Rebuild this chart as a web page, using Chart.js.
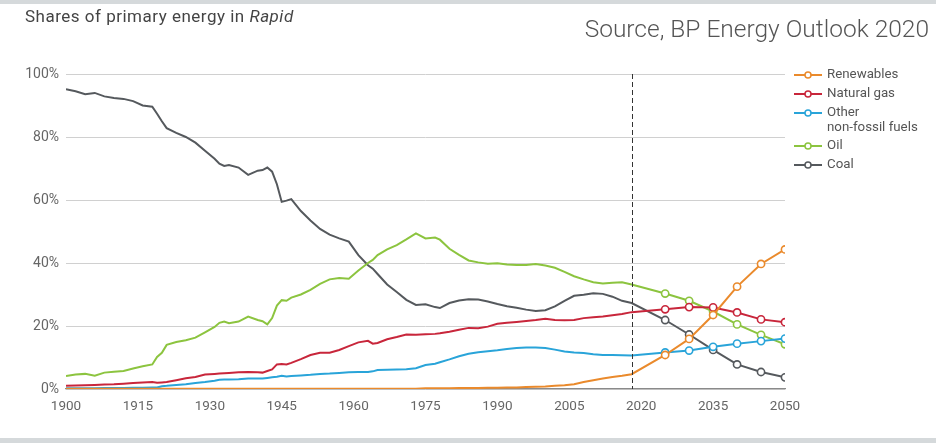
<!DOCTYPE html>
<html>
<head>
<meta charset="utf-8">
<script src="https://cdn.jsdelivr.net/npm/chart.js@4.4.0/dist/chart.umd.min.js"></script>
<style>
  html, body { margin: 0; padding: 0; background: #fff; }
  #wrap { position: relative; width: 936px; height: 443px; overflow: hidden; background: #fff; font-family: Roboto, "Liberation Sans", sans-serif; }
  #topband { position: absolute; left: 0; top: 0; width: 936px; height: 4px; background: #d5d9db; }
  #botband { position: absolute; left: 0; top: 438px; width: 936px; height: 5px; background: #d5d9db; }
  #title { position: absolute; left: 25px; top: 6px; font-size: 17px; letter-spacing: 0.5px; color: #444; white-space: nowrap; }
  #source { position: absolute; right: 7px; top: 14px; font-size: 24.5px; font-weight: 300; color: #555; white-space: nowrap; }
  #chartbox { position: absolute; left: 0; top: 0; width: 936px; height: 443px; }
  #legend { position: absolute; left: 793px; top: 66px; font-size: 13.3px; color: #555; line-height: 15px; }
  .item { position: relative; height: 19px; padding-left: 34px; white-space: nowrap; }
  .item svg { position: absolute; left: 0; top: 3px; }
  .item.two { height: 33px; }
</style>
</head>
<body>
<div id="wrap">
  <div id="topband"></div>
  <div id="botband"></div>
  <div id="chartbox"><canvas id="c" width="936" height="443"></canvas></div>
  <div id="title">Shares of primary energy in <i>Rapid</i></div>
  <div id="source">Source, BP Energy Outlook 2020</div>
  <div id="legend"></div>
</div>
<script>
// ---- data ----
const years = [1900,1902,1904,1906,1908,1910,1912,1914,1916,1918,1919,1920,1921,1923,1925,1927,1929,1931,1932,1933,1934,1936,1938,1940,1941,1942,1943,1944,1945,1946,1947,1949,1951,1953,1955,1957,1959,1961,1963,1964,1965,1967,1969,1971,1973,1975,1977,1978,1980,1982,1984,1986,1988,1990,1992,1994,1996,1998,2000,2002,2004,2006,2008,2010,2012,2014,2016,2018,2025,2030,2035,2040,2045,2050];

const renewables = [0.1,0.1,0.1,0.1,0.1,0.1,0.1,0.1,0.1,0.1,0.1,0.1,0.1,0.1,0.1,0.1,0.1,0.1,0.1,0.1,0.1,0.1,0.1,0.1,0.1,0.1,0.1,0.1,0.1,0.1,0.1,0.1,0.1,0.1,0.1,0.1,0.1,0.1,0.1,0.1,0.1,0.1,0.1,0.1,0.1,0.2,0.2,0.2,0.2,0.3,0.3,0.3,0.4,0.4,0.5,0.5,0.6,0.7,0.8,1.0,1.2,1.5,2.2,2.8,3.3,3.8,4.2,4.7,10.8,15.9,23.5,32.5,39.7,44.3];

const naturalGas = [1.0,1.1,1.2,1.3,1.4,1.5,1.7,1.9,2.1,2.2,2.0,2.1,2.2,2.8,3.4,3.8,4.6,4.8,4.9,5.0,5.1,5.3,5.4,5.3,5.2,5.7,6.2,7.8,7.9,7.8,8.3,9.5,10.8,11.5,11.5,12.4,13.6,14.8,15.3,14.4,14.6,15.8,16.5,17.3,17.2,17.4,17.5,17.7,18.2,18.8,19.4,19.3,19.8,20.7,21.0,21.3,21.6,21.9,22.3,21.9,21.8,21.9,22.5,22.8,23.0,23.4,23.8,24.4,25.3,26.0,25.9,24.3,22.1,21.2];

const otherNonFossil = [0.2,0.2,0.2,0.2,0.3,0.3,0.3,0.4,0.4,0.5,0.5,0.9,1.0,1.3,1.5,1.9,2.2,2.6,2.9,3.0,3.0,3.1,3.3,3.3,3.3,3.5,3.7,3.9,4.2,4.0,4.1,4.3,4.5,4.8,4.9,5.1,5.3,5.4,5.4,5.6,6.0,6.1,6.2,6.3,6.6,7.6,8.0,8.5,9.4,10.4,11.2,11.7,12.0,12.3,12.7,13.0,13.2,13.2,13.0,12.5,11.9,11.6,11.4,11.0,10.8,10.8,10.7,10.6,11.6,12.2,13.4,14.4,15.2,16.0];

const oil = [4.1,4.6,4.8,4.2,5.2,5.5,5.7,6.5,7.2,7.8,10.2,11.5,14.0,14.9,15.5,16.3,18.0,19.7,21.0,21.4,20.9,21.4,23.0,21.9,21.5,20.5,22.5,26.5,28.2,28.0,29.0,30.0,31.5,33.4,34.8,35.2,35.0,37.6,40.0,41.0,42.5,44.3,45.7,47.5,49.4,47.8,48.1,47.4,44.5,42.6,40.8,40.2,39.8,39.9,39.5,39.4,39.4,39.7,39.2,38.5,37.2,35.8,34.8,33.9,33.5,33.7,33.9,33.2,30.3,28.0,24.6,20.5,17.2,14.2];

const coal = [95.2,94.5,93.6,94.0,92.9,92.4,92.1,91.4,90.0,89.6,87.4,85.0,82.8,81.3,80.0,78.2,75.6,73.1,71.5,70.8,71.1,70.3,68.0,69.3,69.5,70.3,69.0,65.0,59.4,59.8,60.3,56.5,53.5,50.8,49.0,47.8,46.8,42.5,39.3,38.2,36.5,33.2,30.8,28.3,26.7,26.9,26.0,25.7,27.3,28.1,28.5,28.4,27.8,27.0,26.3,25.8,25.2,24.8,25.0,26.2,28.0,29.6,29.9,30.4,30.2,29.3,28.0,27.3,21.9,17.3,12.4,7.8,5.4,3.7];

const seriesNames = ["Renewables", "Natural gas", "Other\nnon-fossil fuels", "Oil", "Coal"];
const seriesColors = ["#ea8a2c", "#c8263b", "#29a4d9", "#8cc43f", "#55595d"];
const xTicks = [1900, 1915, 1930, 1945, 1960, 1975, 1990, 2005, 2020, 2035, 2050];
const yTicks = [0, 20, 40, 60, 80, 100];
const lastHistoricalYear = 2018;
const firstMarkerYear = 2025;

// ---- build ----
const allValues = [renewables, naturalGas, otherNonFossil, oil, coal];
const datasets = allValues.map((vals, i) => ({
  label: seriesNames[i].replace("\n", " "),
  data: years.map((y, k) => ({ x: y, y: vals[k] })),
  borderColor: seriesColors[i],
  backgroundColor: "#ffffff",
  borderWidth: 2,
  tension: 0,
  pointRadius: ctx => (ctx.raw && ctx.raw.x >= firstMarkerYear ? 3.6 : 0),
  pointHoverRadius: 0,
  pointBorderWidth: 1.6,
  pointBorderColor: seriesColors[i],
  pointBackgroundColor: "#ffffff",
  fill: false
}));

const dashLine = {
  id: "dashLine",
  afterDatasetsDraw(chart) {
    const { ctx, chartArea, scales } = chart;
    const x = Math.round(scales.x.getPixelForValue(lastHistoricalYear)) + 0.5;
    ctx.save();
    ctx.strokeStyle = "#333";
    ctx.lineWidth = 1;
    ctx.setLineDash([5, 3]);
    ctx.beginPath();
    ctx.moveTo(x, chartArea.top);
    ctx.lineTo(x, chartArea.bottom);
    ctx.stroke();
    ctx.restore();
  }
};

new Chart(document.getElementById("c"), {
  type: "line",
  data: { datasets },
  options: {
    responsive: false,
    animation: false,
    events: [],
    layout: { padding: { left: 0, right: 151, top: 74, bottom: 24 } },
    plugins: { legend: { display: false }, tooltip: { enabled: false } },
    scales: {
      x: {
        type: "linear",
        min: 1900, max: 2050,
        afterBuildTicks: s => { s.ticks = xTicks.map(v => ({ value: v })); },
        afterFit: s => { s.height = 30; },
        grid: { display: false, drawTicks: false },
        border: { display: true, color: "#8a8a8a", width: 1.2 },
        ticks: { padding: 10, color: "#666", font: { family: "Roboto", size: 13.5 }, maxRotation: 0, autoSkip: false, callback: v => String(v) }
      },
      y: {
        min: 0, max: 100,
        afterBuildTicks: s => { s.ticks = yTicks.map(v => ({ value: v })); },
        afterFit: s => { s.width = 66; },
        grid: { color: "#d0d0d0", lineWidth: 1, drawTicks: false },
        border: { display: false },
        ticks: { padding: 7, color: "#666", font: { family: "Roboto", size: 14 }, callback: v => v + "%" }
      }
    }
  },
  plugins: [dashLine]
});

// ---- legend (HTML) ----
const leg = document.getElementById("legend");
seriesNames.forEach((name, i) => {
  const d = document.createElement("div");
  const lines = name.split("\n");
  d.className = "item" + (lines.length > 1 ? " two" : "");
  const c = seriesColors[i];
  d.innerHTML = '<svg width="30" height="12"><line x1="1" y1="6" x2="29" y2="6" stroke="' + c + '" stroke-width="2"/><circle cx="15" cy="6" r="3" fill="#fff" stroke="' + c + '" stroke-width="1.5"/></svg>' + lines.join("<br>");
  leg.appendChild(d);
});
</script>
</body>
</html>
